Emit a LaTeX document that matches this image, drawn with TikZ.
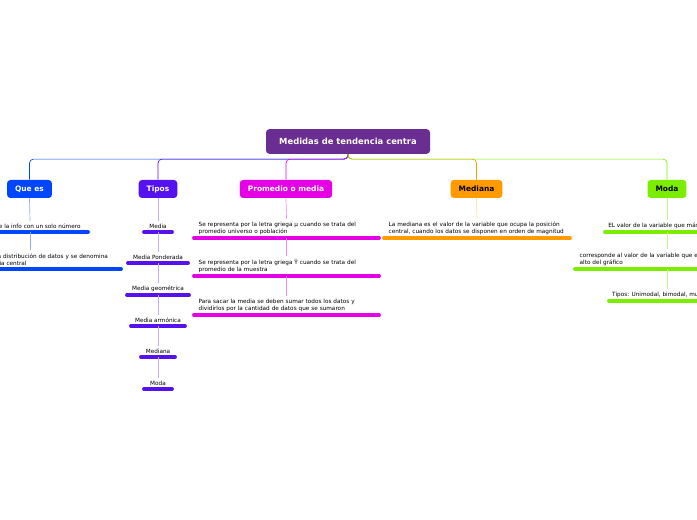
\documentclass[tikz,border=0pt]{standalone}
\usepackage{fontspec}
\setmainfont{DejaVu Sans}
\begin{document}
\begin{tikzpicture}[x=0.75pt,y=-0.75pt,
  every node/.style={font=\fontsize{4.3}{5.6}\selectfont},
  topbox/.style={fill=#1,rounded corners=2.5pt,text=white,font=\fontsize{5.6}{6}\selectfont\bfseries,minimum height=13.5pt,inner xsep=6pt},
  item/.style={anchor=south,inner xsep=3.5pt,inner ysep=2.2pt,text width=#1*0.75pt-7pt},
  citem/.style={anchor=south,inner xsep=0pt,inner ysep=2.2pt,minimum width=#1*0.75pt},
  ul/.style={line width=2.4pt,line cap=round,draw=#1},
  conn/.style={draw=#1,line width=0.5pt,rounded corners=3pt},
  sub/.style={draw=#1,line width=0.5pt}]
\definecolor{cr}{HTML}{6A2D91}
\definecolor{cb}{HTML}{0046FF}
\definecolor{cp}{HTML}{5511EE}
\definecolor{cm}{HTML}{E600E6}
\definecolor{co}{HTML}{FF9A00}
\definecolor{cg}{HTML}{7BEE00}
\useasboundingbox (0,0) rectangle (697,520);
\clip (0,0) rectangle (697,520);
\node[topbox=cr,minimum width=123pt,minimum height=18.5pt,font=\fontsize{6.3}{7}\selectfont\bfseries] (root) at (348,141.5) {Medidas de tendencia centra};
\node[topbox=cb,minimum width=32pt] (q) at (29.5,189) {Que es};
\node[topbox=cp,minimum width=28.5pt] (t) at (158,189) {Tipos};
\node[topbox=cm,minimum width=66pt] (p) at (286,189) {Promedio o media};
\node[topbox=co,minimum width=35pt,text=black] (md) at (476.5,189) {Mediana};
\node[topbox=cg,minimum width=28.5pt,text=black] (mo) at (667,189) {Moda};
\draw[conn=cb] (root.south) -- ++(0,5) -| (q.north);
\draw[conn=cp] (root.south) -- ++(0,5) -| (t.north);
\draw[conn=cm] (root.south) -- ++(0,5) -| (p.north);
\draw[conn=co] (root.south) -- ++(0,5) -| (md.north);
\draw[conn=cg] (root.south) -- ++(0,5) -| (mo.north);
% Que es
\node[citem=116] (q1) at (30,232) {Resume la info con un solo número};
\node[item=182,align=left] (q2) at (30,269) {\mbox{Valor que resume la distribución de datos y se denomina}\\\mbox{medida de tendencia central}};
\draw[ul=cb] (q1.south west) -- (q1.south east);
\draw[ul=cb] (q2.south west) -- (q2.south east);
\draw[sub=cb!45] (q.south) -- (q1.north);
\draw[sub=cb!45] (q1.south) -- (q2.north);
% Tipos
\node[citem=28] (t1) at (158,232) {Media};
\node[citem=60] (t2) at (158,263) {Media Ponderada};
\node[citem=62] (t3) at (158,295) {Media geométrica};
\node[citem=54] (t4) at (158,326) {Media armónica};
\node[citem=34] (t5) at (158,357) {Mediana};
\node[citem=28] (t6) at (158,389) {Moda};
\foreach \n in {t1,t2,t3,t4,t5,t6}{\draw[ul=cp] (\n.south west) -- (\n.south east);}
\draw[sub=cp!35] (t.south) -- (t1.north);
\draw[sub=cp!35] (t1.south) -- (t2.north);
\draw[sub=cp!35] (t2.south) -- (t3.north);
\draw[sub=cp!35] (t3.south) -- (t4.north);
\draw[sub=cp!35] (t4.south) -- (t5.north);
\draw[sub=cp!35] (t5.south) -- (t6.north);
% Promedio
\node[item=185,align=left] (p1) at (286.5,238) {\mbox{Se representa por la letra griega µ cuando se trata del}\\\mbox{promedio universo o población}};
\node[item=185,align=left] (p2) at (286.5,276) {\mbox{Se representa por la letra griega Ȳ cuando se trata del}\\\mbox{promedio de la muestra}};
\node[item=185,align=left] (p3) at (286.5,315) {\mbox{Para sacar la media se deben sumar todos los datos y}\\\mbox{dividirlos por la cantidad de datos que se sumaron}};
\foreach \n in {p1,p2,p3}{\draw[ul=cm] (\n.south west) -- (\n.south east);}
\draw[sub=cm!45] (p.south) -- (p1.north);
\draw[sub=cm!45] (p1.south) -- (p2.north);
\draw[sub=cm!45] (p2.south) -- (p3.north);
% Mediana
\node[item=186,align=left] (m1) at (477,238) {\mbox{La mediana es el valor de la variable que ocupa la posición}\\\mbox{central, cuando los datos se disponen en orden de magnitud}};
\draw[ul=co] (m1.south west) -- (m1.south east);
\draw[sub=co!40] (md.south) -- (m1.north);
% Moda
\node[citem=124] (o1) at (667,232) {EL valor de la variable que más se repite};
\node[item=184,align=left] (o2) at (667,269) {\mbox{corresponde al valor de la variable que esta en el punto más}\\\mbox{alto del gráfico}};
\node[citem=116] (o3) at (667,301) {Tipos: Unimodal, bimodal, multimodal};
\foreach \n in {o1,o2,o3}{\draw[ul=cg] (\n.south west) -- (\n.south east);}
\draw[sub=cg!45] (mo.south) -- (o1.north);
\draw[sub=cg!45] (o1.south) -- (o2.north);
\draw[sub=cg!45] (o2.south) -- (o3.north);
\end{tikzpicture}
\end{document}
